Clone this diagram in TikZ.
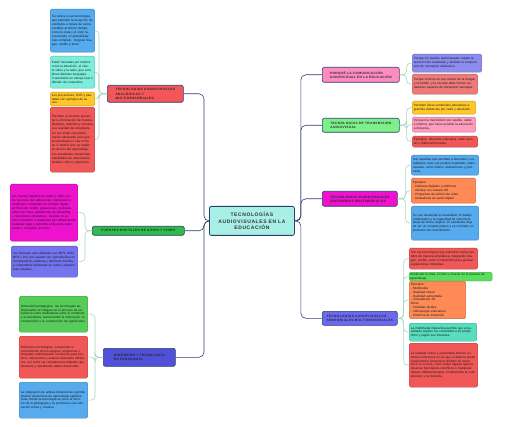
\documentclass[tikz,border=0pt]{standalone}
\usepackage{fontspec}
\setmainfont{Liberation Sans}
\newfontfamily\tfont[LetterSpace=12]{Liberation Sans}
\definecolor{navy}{HTML}{2B3F6B}
\definecolor{lline}{HTML}{A6D6BE}
\definecolor{ccenter}{HTML}{A8F0E6}
\definecolor{cred}{HTML}{F25658}
\definecolor{cgreen}{HTML}{2EBD4A}
\definecolor{cviolet}{HTML}{5050D8}
\definecolor{cpink}{HTML}{FF8CC0}
\definecolor{clgreen}{HTML}{7EF08A}
\definecolor{cmag}{HTML}{F010D0}
\definecolor{cpurp}{HTML}{6A6AF0}
\definecolor{lblue}{HTML}{56AAEE}
\definecolor{lcyan}{HTML}{7EEEDC}
\definecolor{lyellow}{HTML}{FFC828}
\definecolor{lred}{HTML}{F05858}
\definecolor{lmag}{HTML}{EE12CC}
\definecolor{lviol}{HTML}{7474EE}
\definecolor{lgreen}{HTML}{58CC58}
\definecolor{lpurp}{HTML}{8C8CF0}
\definecolor{lsalmon}{HTML}{EE7A7A}
\definecolor{lpink}{HTML}{FF9CBE}
\definecolor{lorange}{HTML}{FF8A56}
\definecolor{lbgreen}{HTML}{58DD5E}
\definecolor{lteal}{HTML}{58DDBE}
\tikzset{
  leaf/.style={anchor=north west, rounded corners=1.5pt, inner sep=1.8pt,
    align=left, font=\fontsize{3.1}{3.95}\selectfont, text=black!90, line width=0.3pt},
  branch/.style={anchor=north west, rounded corners=2pt, draw=navy, line width=0.6pt,
    inner sep=2pt, align=left, text=black!85,
    font=\tfont\bfseries\fontsize{3.2}{4.2}\selectfont},
  mainline/.style={draw=navy, line width=0.6pt, rounded corners=5pt},
  leafline/.style={draw=lline, line width=0.6pt, rounded corners=4pt},
}
\begin{document}
\begin{tikzpicture}[x=1pt,y=-1pt]
\useasboundingbox (0,0) rectangle (505,427);

% center
\node[anchor=north west, rounded corners=2pt, draw=navy, line width=0.8pt, fill=ccenter,
  minimum width=85pt, minimum height=29pt, align=center, text=black!80,
  font=\tfont\bfseries\fontsize{5}{6.8}\selectfont] (c) at (209,206)
  {TECNOLOGÍAS\\AUDIOVISUALES EN LA\\EDUCACIÓN};

% branches
\node[branch, fill=cred, minimum width=76pt, minimum height=17pt] (l1) at (107,85)
  {TECNOLOGÍAS AUDIOVISUALES\\ANALÓGICAS Y\\MULTISENSORIALES};
\node[branch, fill=cgreen, minimum width=92pt, minimum height=9pt] (l2) at (92,226)
  {FUENTES DIGITALES DE AUDIO Y VIDEO};
\node[branch, fill=cviolet, minimum width=72pt, minimum height=18pt] (l3) at (103,348)
  {DIMENSIÓN Y TECNOLOGÍA\\EN PEDAGOGÍA};
\node[branch, fill=cpink, minimum width=77pt, minimum height=15pt] (r1) at (322,67)
  {PORQUÉ LA COMUNICACIÓN\\AUDIOVISUAL EN LA EDUCACIÓN};
\node[branch, fill=clgreen, minimum width=77pt, minimum height=14pt] (r2) at (322,118)
  {TECNOLOGÍAS DE TRANSMISIÓN\\AUDIOVISUAL};
\node[branch, fill=cmag, minimum width=75pt, minimum height=15pt] (r3) at (322,191)
  {TECNOLOGÍAS AUDIOVISUALES\\CREADORAS MULTIMEDIALES};
\node[branch, fill=cpurp, minimum width=75pt, minimum height=14pt] (r4) at (322,311)
  {TECNOLOGÍAS AUDIOVISUALES\\SENSORIALES MULTISENSORIALES};

% left leaves of l1
\node[leaf, fill=lblue, draw=lblue!75!black, text width=41pt, minimum height=43pt] (a1) at (50,9)
  {Se refiere a las tecnologías que permiten la recepción de estímulos a través de varios sentidos al mismo tiempo, como la vista y el oído, favoreciendo un aprendizaje más completo. Integran imagen, sonido y texto.};
\node[leaf, fill=lcyan, draw=lcyan!75!black, text width=41pt, minimum height=32pt] (a2) at (50,56)
  {Están formadas por medios como la televisión, el cine, el video y la radio, que combinan distintos lenguajes. Transmisión en tiempo real o diferido de contenidos.};
\node[leaf, fill=lyellow, draw=lyellow!75!black, text width=41pt, minimum height=12pt] (a3) at (50,92)
  {Los proyectores, DVD y pantallas son ejemplos de su uso.};
\node[leaf, fill=lred, draw=lred!75!black, text width=41pt, minimum height=65pt] (a4) at (50,107)
  {Permiten al docente presentar la información de manera dinámica, atractiva y cercana a la realidad del estudiante.\\[1.5pt]
   Su uso exige una planificación adecuada, para que la tecnología no sea un fin en sí misma sino un medio al servicio del aprendizaje.\\[1.5pt]
   Los estudiantes desarrollan habilidades de observación, análisis crítico y expresión.};

% leaves of l2
\node[leaf, fill=lmag, draw=lmag!75!black, text width=64pt, minimum height=57pt] (b1) at (10,184)
  {Las fuentes digitales de audio y video son los recursos que almacenan, reproducen y distribuyen contenidos en formato digital: archivos de sonido, grabaciones, podcasts, videos en línea, plataformas de streaming y repositorios educativos. Facilitan el acceso inmediato a materiales de calidad desde cualquier lugar y permiten al docente seleccionar y compartir recursos.};
\node[leaf, fill=lviol, draw=lviol!75!black, text width=63pt, minimum height=31pt] (b2) at (11,246)
  {Los formatos más utilizados son MP3, WAV, MP4 y AVI, que pueden ser reproducidos en computadoras, tabletas y teléfonos móviles, y compartidos fácilmente en redes y plataformas virtuales.};

% leaves of l3
\node[leaf, fill=lgreen, draw=lgreen!75!black, text width=65pt, minimum height=36pt] (d1) at (19,296)
  {Dimensión pedagógica: las tecnologías audiovisuales se integran en el proceso de enseñanza como mediadoras entre el contenido y el estudiante, favoreciendo la motivación, la comprensión y la construcción de significados.};
\node[leaf, fill=lred, draw=lred!75!black, text width=65pt, minimum height=42pt] (d2) at (19,336)
  {Dimensión tecnológica: comprende el conocimiento de los equipos, programas y lenguajes audiovisuales necesarios para producir, seleccionar y evaluar materiales didácticos, así como las competencias digitales que docentes y estudiantes deben desarrollar.};
\node[leaf, fill=lblue, draw=lblue!75!black, text width=65pt, minimum height=36pt] (d3) at (19,382)
  {La integración de ambas dimensiones permite diseñar situaciones de aprendizaje significativas, donde la tecnología se pone al servicio de la pedagogía y se promueve una educación crítica y creativa.};

% leaves of r1
\node[leaf, fill=lpurp, draw=lpurp!75!black, text width=66pt, minimum height=18pt] (e1) at (412,54)
  {Porque los medios audiovisuales captan la atención del estudiante y facilitan la comprensión de conceptos abstractos.};
\node[leaf, fill=lsalmon, draw=lsalmon!75!black, text width=62pt, minimum height=20pt] (e2) at (412,74)
  {Porque vivimos en una cultura de la imagen y el sonido, y la escuela debe formar ciudadanos capaces de interpretar mensajes.};

% leaves of r2
\node[leaf, fill=lyellow, draw=lyellow!75!black, text width=60pt, minimum height=13pt] (f1) at (412,101)
  {Permiten llevar contenidos educativos a grandes distancias por radio y televisión.};
\node[leaf, fill=lpink, draw=lpink!75!black, text width=60pt, minimum height=15pt] (f2) at (412,117)
  {Incluyen la transmisión por satélite, cable e internet, que hacen posible la educación a distancia.};
\node[leaf, fill=lred, draw=lred!75!black, text width=62pt, minimum height=11pt] (f3) at (412,136)
  {Ejemplos: televisión educativa, radio escolar y videoconferencias.};

% leaves of r3
\node[leaf, fill=lblue, draw=lblue!75!black, text width=64pt, minimum height=20pt] (g1) at (411,155)
  {Son aquellas que permiten a docentes y estudiantes crear sus propios materiales audiovisuales, como videos, animaciones y podcasts.};
\node[leaf, fill=lorange, draw=lorange!75!black, text width=61pt, minimum height=25pt] (g2) at (411,178)
  {Ejemplos:\\ - Cámaras digitales y teléfonos\\ \ \ móviles con cámara HD\\ - Programas de edición de video\\ - Grabadoras de audio digital};
\node[leaf, fill=lblue, draw=lblue!75!black, text width=64pt, minimum height=34pt] (g3) at (411,206)
  {Su uso desarrolla la creatividad, el trabajo colaborativo y la capacidad de comunicar ideas de forma original. El estudiante deja de ser un receptor pasivo y se convierte en productor de conocimiento.};

% leaves of r4
\node[leaf, fill=lred, draw=lred!75!black, text width=65pt, minimum height=21pt] (h1) at (409,248)
  {Son las tecnologías que estimulan varios sentidos de manera simultánea, integrando imagen, sonido, texto e interacción para generar experiencias completas.};
\node[leaf, fill=lbgreen, draw=lbgreen!75!black, text width=81pt, minimum height=6pt, inner sep=1pt] (h2) at (409,272)
  {Involucran la vista, el oído y el tacto en el proceso de aprendizaje.};
\node[leaf, fill=lorange, draw=lorange!75!black, text width=53pt, minimum height=37pt] (h3) at (409,281)
  {Ejemplos:\\ - Multimedia\\ - Realidad virtual\\ - Realidad aumentada\\ - Simuladores 3D\\ Otros:\\ - Pantallas táctiles\\ - Videojuegos educativos\\ - Entornos de inmersión};
\node[leaf, fill=lteal, draw=lteal!75!black, text width=64pt, minimum height=18pt] (h4) at (409,323)
  {La multimedia interactiva permite que el estudiante explore los contenidos a su propio ritmo y según sus intereses.};
\node[leaf, fill=lred, draw=lred!75!black, text width=65pt, minimum height=44pt] (h5) at (409,343)
  {La realidad virtual y aumentada ofrecen entornos inmersivos en los que el alumno puede experimentar situaciones difíciles de reproducir en el aula, como visitar lugares lejanos, observar fenómenos científicos o manipular objetos tridimensionales, fortaleciendo la comprensión y la memoria.};

% main connectors
\foreach \n in {l1,l2,l3}
  \draw[mainline] (c.west) -- ([xshift=-5pt]c.west) |- (\n.east);
\foreach \n in {r1,r2,r3,r4}
  \draw[mainline] (c.east) -- ([xshift=6pt]c.east) |- (\n.west);

% leaf connectors
\foreach \n in {a1,a2,a3,a4}
  \draw[leafline] (l1.west) -- ([xshift=-8pt]l1.west) |- (\n.east);
\foreach \n in {b1,b2}
  \draw[leafline] (l2.west) -- ([xshift=-7pt]l2.west) |- (\n.east);
\foreach \n in {d1,d2,d3}
  \draw[leafline] (l3.west) -- ([xshift=-8pt]l3.west) |- (\n.east);
\foreach \n in {e1,e2}
  \draw[leafline] (r1.east) -- ([xshift=7pt]r1.east) |- (\n.west);
\foreach \n in {f1,f2,f3}
  \draw[leafline] (r2.east) -- ([xshift=7pt]r2.east) |- (\n.west);
\foreach \n in {g1,g2,g3}
  \draw[leafline] (r3.east) -- ([xshift=8pt]r3.east) |- (\n.west);
\foreach \n in {h1,h2,h3,h4,h5}
  \draw[leafline] (r4.east) -- ([xshift=6pt]r4.east) |- (\n.west);
\end{tikzpicture}
\end{document}
